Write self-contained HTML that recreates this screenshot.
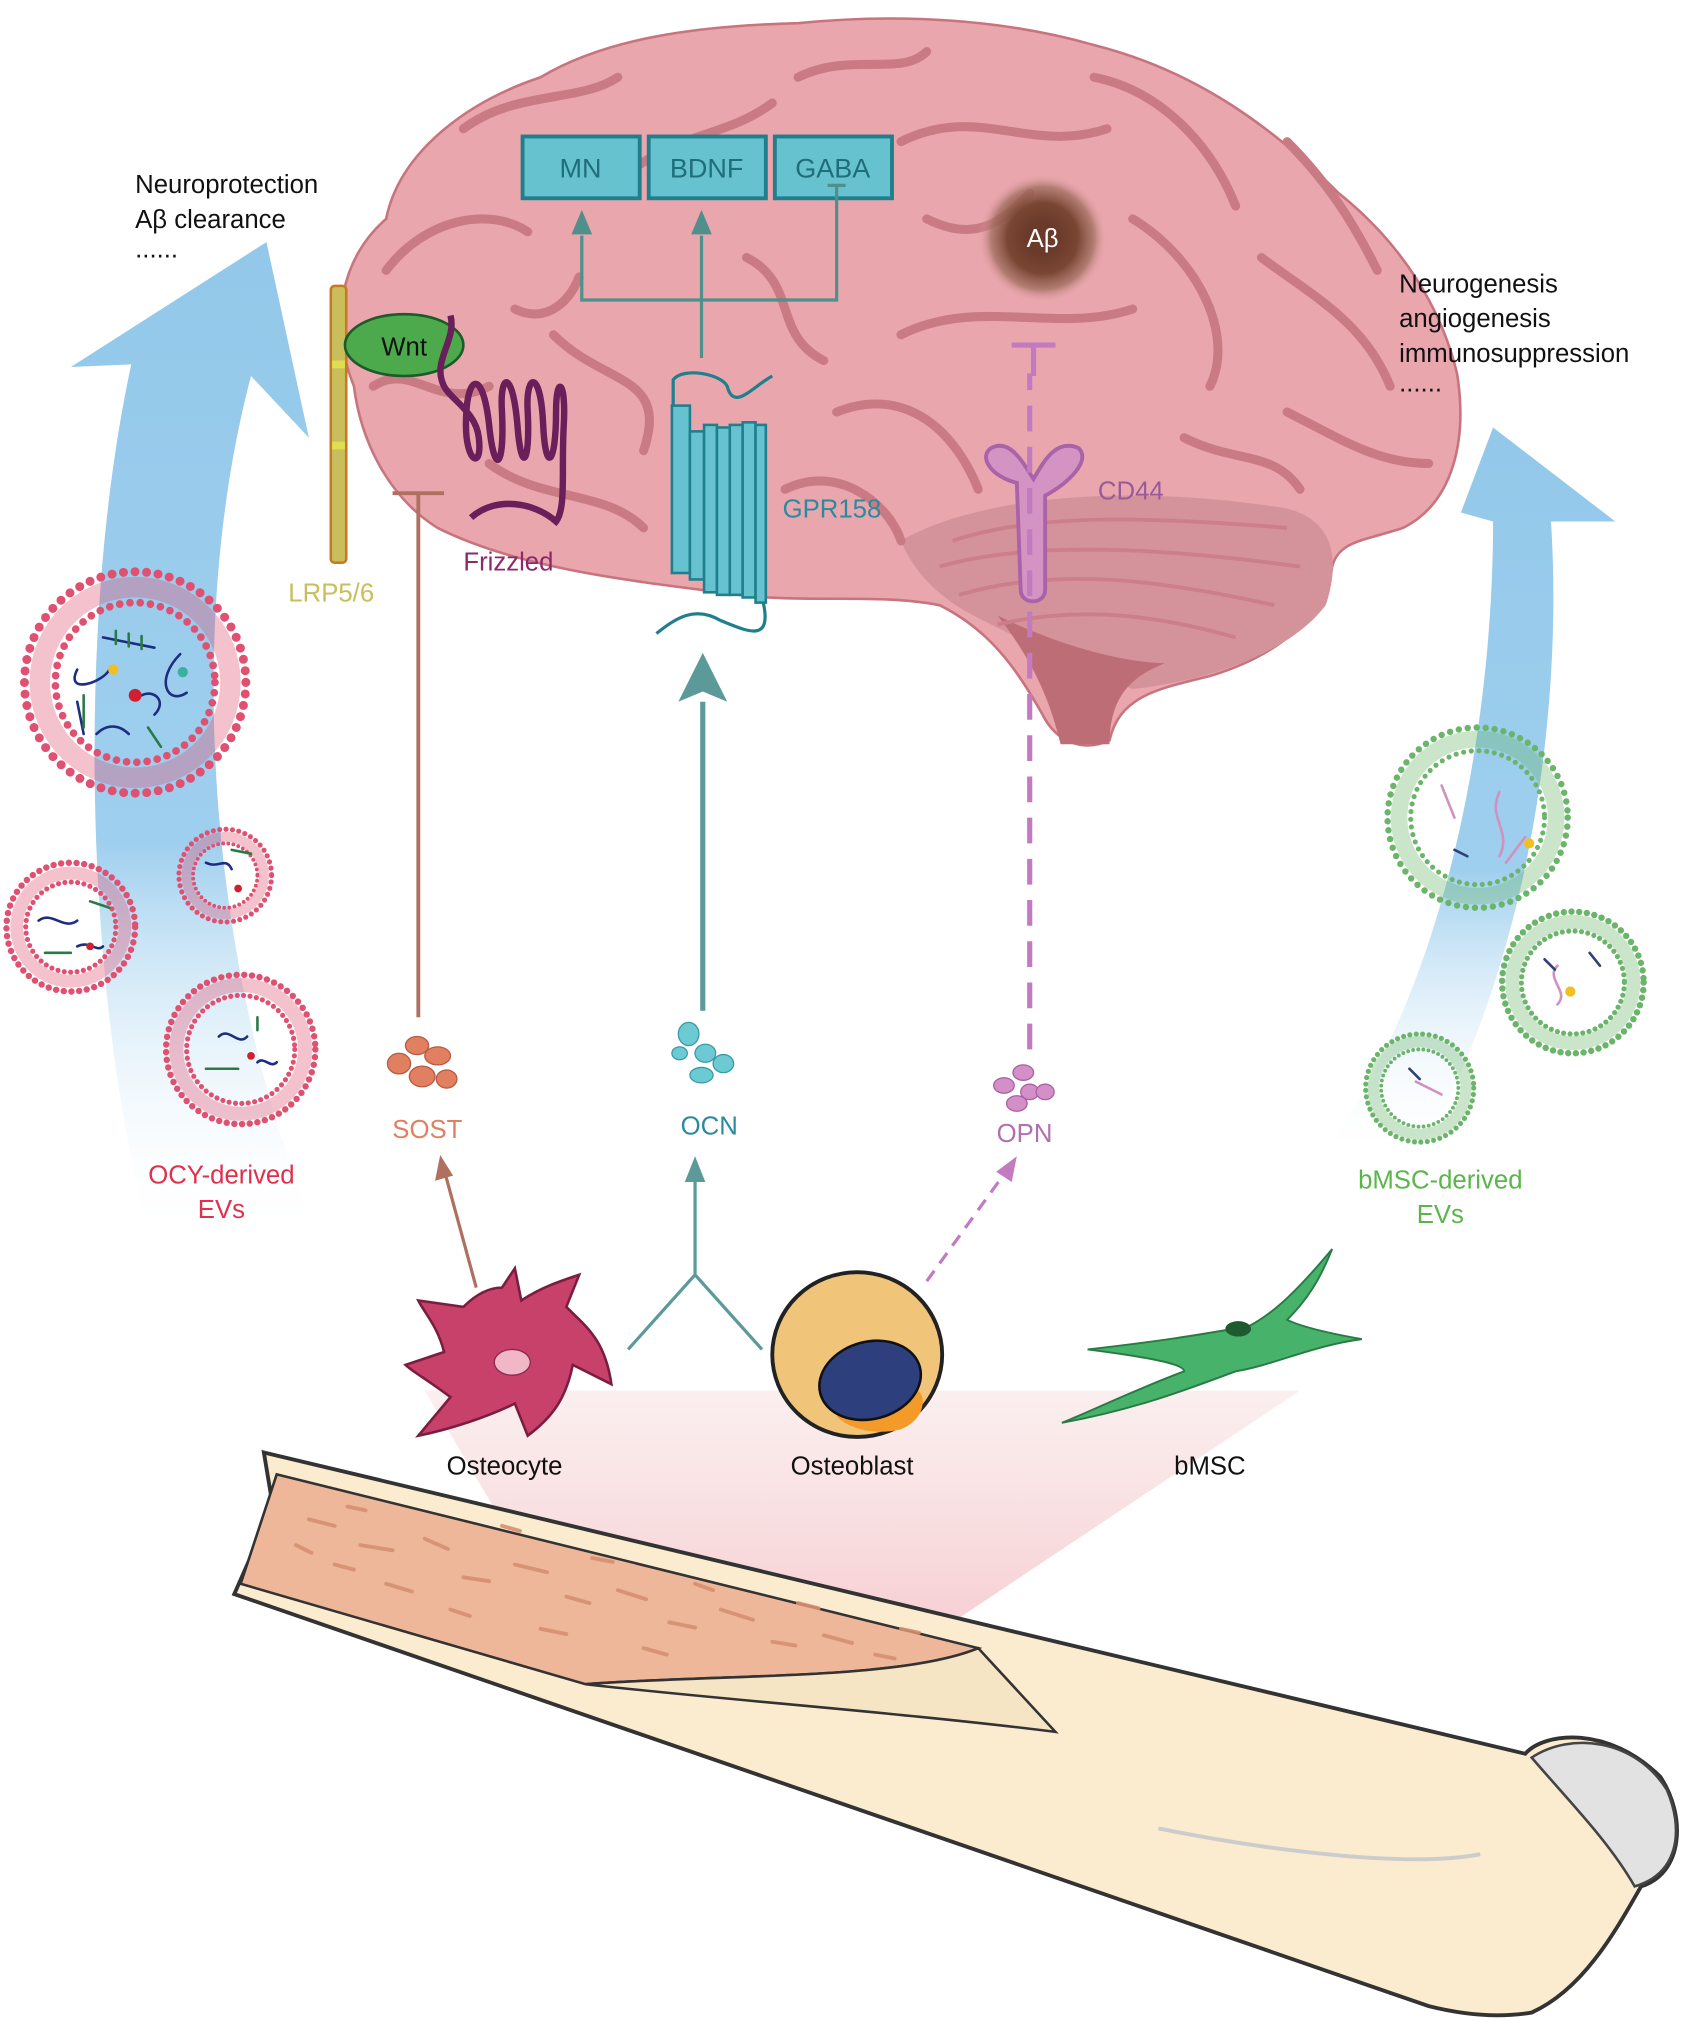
<!DOCTYPE html>
<html><head><meta charset="utf-8"><style>
html,body{margin:0;padding:0;background:#fff}
svg{display:block}
text{font-family:"Liberation Sans",sans-serif}
</style></head><body>
<svg width="1681" height="2019" viewBox="0 0 1306 1568" preserveAspectRatio="none" xmlns="http://www.w3.org/2000/svg">
<defs>
<linearGradient id="bl" x1="0" y1="0" x2="0" y2="1" gradientUnits="objectBoundingBox">
<stop offset="0" stop-color="#93c8ea"/><stop offset="0.6" stop-color="#9fcfee"/><stop offset="1" stop-color="#fff" stop-opacity="0"/></linearGradient>
<linearGradient id="pk" x1="0" y1="0" x2="0" y2="1">
<stop offset="0" stop-color="#f7dede" stop-opacity="0.5"/><stop offset="1" stop-color="#f3b8bf" stop-opacity="0.8"/></linearGradient>
<radialGradient id="ab"><stop offset="0.25" stop-color="#6b3a2a"/><stop offset="0.55" stop-color="#7a4634"/><stop offset="0.8" stop-color="#9a6a58" stop-opacity="0.7"/><stop offset="1" stop-color="#e8a4ab" stop-opacity="0"/></radialGradient>
</defs>

<path d="M250,965 C175,800 135,520 195,292 L240,340 L207,188 L55,285 L102,283 C55,500 70,800 118,965 Z" fill="url(#bl)"/>
<path d="M1098,905 C1185,760 1215,560 1205,405 L1255,405 L1160,332 L1135,398 L1160,405 C1160,560 1125,760 1035,885 Z" fill="url(#bl)"/>

<path d="M275,300 C255,250 265,200 300,170 C310,120 360,80 420,60 C470,30 540,20 620,18 C700,10 780,15 850,35 C930,55 990,100 1040,150 C1090,190 1120,240 1132,290 C1140,340 1130,390 1090,410 C1060,420 1040,420 1035,440 C1030,480 990,510 940,525 C900,535 870,540 862,575 C840,585 820,575 810,555 C790,520 770,490 730,470 C680,460 620,470 560,460 C480,450 400,440 340,410 C300,385 280,340 275,300 Z" fill="#e9a6ad" stroke="#c7747e" stroke-width="2"/>
<path d="M700,420 C760,385 880,375 1000,395 C1040,405 1040,440 1030,470 C1000,510 930,530 880,535 C840,520 800,500 760,480 C730,465 710,445 700,420 Z" fill="#d4939a"/>
<path d="M775,478 C830,505 880,515 905,515 C880,525 862,540 862,578 L824,578 C815,540 800,510 775,478 Z" fill="#bd6d75"/>
<g fill="none" stroke="#cc7f88" stroke-width="3">
<path d="M740,420 C800,400 880,400 1000,410"/><path d="M730,440 C800,420 900,425 1010,440"/><path d="M745,462 C820,440 900,450 990,470"/><path d="M775,485 C840,470 900,478 960,495"/>
</g>
<g fill="none" stroke="#c97a83" stroke-width="7" stroke-linecap="round">
<path d="M300,210 C330,170 380,160 410,180"/><path d="M360,100 C400,70 450,80 480,60"/><path d="M470,150 C520,100 560,110 600,80"/>
<path d="M620,60 C660,40 700,60 720,40"/><path d="M700,110 C760,80 800,120 860,100"/><path d="M850,60 C900,70 940,110 960,160"/>
<path d="M980,200 C1020,230 1060,250 1080,300"/><path d="M880,170 C930,200 960,260 940,300"/><path d="M700,260 C760,230 820,260 880,240"/>
<path d="M650,320 C700,300 740,330 760,380"/><path d="M290,300 C320,280 340,320 380,300"/><path d="M430,260 C470,300 520,290 500,350"/>
<path d="M380,360 C420,390 470,380 500,410"/><path d="M610,380 C650,360 690,390 700,420"/><path d="M1000,320 C1040,340 1070,360 1110,360"/>
<path d="M920,340 C960,360 990,350 1010,380"/><path d="M580,200 C620,220 600,260 640,280"/><path d="M720,170 C760,190 780,170 800,150"/>
<path d="M1000,110 C1030,140 1050,170 1070,210"/><path d="M450,215 C440,240 420,250 400,240"/>
</g>

<g stroke="#1f7f8c" stroke-width="3" fill="#67c2cf">
<rect x="406" y="106" width="91" height="48"/><rect x="504" y="106" width="91" height="48"/><rect x="602" y="106" width="91" height="48"/>
</g>
<g font-size="21" fill="#1f6f7a" text-anchor="middle"><text x="451" y="138">MN</text><text x="549" y="138">BDNF</text><text x="647" y="138">GABA</text></g>
<g stroke="#4f8f8c" stroke-width="2.5" fill="none"><path d="M452,183 V233 H650 V144 M643,144 H657 M545,278 V183"/></g>
<path d="M452,163 L444,182 L460,182 Z M545,163 L537,182 L553,182 Z" fill="#4f8f8c"/>

<circle cx="810" cy="185" r="50" fill="url(#ab)"/>
<text x="810" y="192" font-size="20" fill="#fff" text-anchor="middle">Aβ</text>

<rect x="257" y="222" width="12" height="215" rx="3" fill="#c9bd5c" stroke="#c87a20" stroke-width="2"/>
<rect x="258" y="280" width="10" height="6" fill="#dede50"/><rect x="258" y="343" width="10" height="6" fill="#dede50"/>
<ellipse cx="314" cy="268" rx="46" ry="24" fill="#4caa4c" stroke="#1d5a2a" stroke-width="2"/>
<text x="314" y="276" font-size="20" text-anchor="middle" fill="#111">Wnt</text>
<path d="M350,245 C355,265 335,280 345,300 C350,310 370,320 372,340 C375,365 362,360 362,330 C362,290 375,285 380,330 C384,370 392,365 390,320 C388,290 398,285 402,330 C405,370 412,360 410,320 C408,290 420,285 422,330 C424,370 432,360 432,320 C432,290 440,295 438,330 C436,365 440,395 432,405 C415,390 385,385 366,402" fill="none" stroke="#6a1f5a" stroke-width="5"/>
<text x="360" y="443" font-size="20" fill="#8a2a6a">Frizzled</text>
<text x="224" y="467" font-size="20" fill="#c9bd5c">LRP5/6</text>

<g fill="#67c2cf" stroke="#1f7f8c" stroke-width="2">
<rect x="522" y="315" width="14" height="130"/><rect x="536" y="335" width="11" height="115"/><rect x="547" y="330" width="10" height="130"/>
<rect x="557" y="332" width="10" height="130"/><rect x="567" y="330" width="10" height="132"/><rect x="577" y="328" width="10" height="136"/><rect x="587" y="330" width="8" height="138"/>
</g>
<path d="M523,315 V295 C530,285 560,290 565,300 C570,320 585,300 600,292 M510,492 C525,480 540,470 560,482 C580,490 600,500 593,468" fill="none" stroke="#1f7f8c" stroke-width="2.5"/>
<text x="608" y="402" font-size="20" fill="#2a8aa0">GPR158</text>

<path d="M790,375 C770,370 760,355 770,348 C785,340 795,360 803,372 C810,360 820,340 838,348 C848,358 830,375 812,385 L812,458 C812,470 793,470 793,458 Z" fill="#d394c3" stroke="#aa62a8" stroke-width="3"/>
<text x="853" y="388" font-size="20" fill="#9a5a9a">CD44</text>

<g font-size="20" fill="#111">
<text x="105" y="150">Neuroprotection</text><text x="105" y="177">Aβ clearance</text><text x="105" y="200">......</text>
<text x="1087" y="227">Neurogenesis</text><text x="1087" y="254">angiogenesis</text><text x="1087" y="281">immunosuppression</text><text x="1087" y="304">......</text>
</g>

<polygon points="330,1080 1010,1080 680,1300 460,1300" fill="url(#pk)"/>

<path d="M205,1128 L1185,1362 C1200,1345 1250,1340 1290,1380 C1310,1410 1308,1455 1275,1465 C1255,1500 1230,1545 1190,1563 C1160,1568 1130,1563 1110,1558 L182,1238 L212,1170 Z" fill="#fbebcf" stroke="#333" stroke-width="3"/>
<path d="M1190,1365 C1220,1345 1270,1350 1295,1390 C1308,1420 1305,1455 1270,1465 C1250,1430 1220,1400 1190,1365 Z" fill="#e2e2e2" stroke="#444" stroke-width="2"/>
<path d="M215,1145 L760,1280 C700,1305 560,1300 455,1308 L187,1230 Z" fill="#eeb79a" stroke="#333" stroke-width="2"/>
<path d="M455,1308 C560,1300 700,1305 760,1280 L820,1345 C700,1330 560,1320 455,1308 Z" fill="#f6e5c4" stroke="#333" stroke-width="2"/>
<g stroke="#d69070" stroke-width="3" stroke-linecap="round" opacity="0.9">
<path d="M240,1180 l20,5 M280,1200 l25,4 M330,1195 l18,8 M360,1225 l20,3 M400,1215 l25,6 M440,1240 l18,5 M480,1235 l22,7 M520,1260 l20,4 M560,1250 l25,8 M600,1275 l18,3 M640,1270 l22,6 M300,1230 l20,6 M420,1265 l20,4 M500,1280 l18,5 M260,1215 l15,4 M680,1285 l15,3 M230,1200 l12,6 M270,1170 l14,3 M350,1250 l15,5 M390,1185 l14,4 M460,1210 l16,3 M540,1230 l14,5 M620,1245 l16,4 M700,1265 l14,3"/>
</g>
<path d="M900,1420 C1000,1440 1100,1450 1150,1440" fill="none" stroke="#ccc" stroke-width="3"/>

<path d="M390,1000 L400,985 L405,1010 C420,1000 435,995 450,990 L440,1015 C455,1030 470,1040 475,1075 L445,1060 C440,1085 430,1100 410,1115 L400,1090 C380,1100 350,1110 325,1115 L350,1085 C330,1070 320,1065 315,1060 L345,1050 C340,1030 330,1020 325,1010 L360,1015 C370,1005 380,1000 390,1000 Z" fill="#c8416a" stroke="#7a1d40" stroke-width="2"/>
<ellipse cx="398" cy="1058" rx="14" ry="10" fill="#f1b7c7" stroke="#8a2a50"/>
<ellipse cx="666" cy="1052" rx="66" ry="64" fill="#f0c57a" stroke="#222" stroke-width="3"/>
<path d="M700,1080 C720,1070 725,1100 700,1110 C680,1115 660,1110 650,1100 Z" fill="#f39a28"/>
<ellipse cx="676" cy="1072" rx="40" ry="30" transform="rotate(-15 676 1072)" fill="#2e3f7e" stroke="#111" stroke-width="2"/>
<path d="M1035,970 C1010,1000 990,1020 970,1030 C940,1035 915,1040 845,1048 C900,1055 920,1060 920,1065 C880,1080 850,1095 825,1105 C880,1095 920,1080 960,1065 C990,1060 1020,1045 1058,1040 C1030,1035 1010,1030 1000,1025 C1015,1010 1025,995 1035,970 Z" fill="#47b26a" stroke="#2a7a45" stroke-width="1.5"/>
<ellipse cx="962" cy="1032" rx="10" ry="6" fill="#1d5a30"/>
<g font-size="20" fill="#111" text-anchor="middle"><text x="392" y="1145">Osteocyte</text><text x="662" y="1145">Osteoblast</text><text x="940" y="1145">bMSC</text></g>

<path d="M325,790 V383 M305,383 H345" stroke="#b07060" stroke-width="3" fill="none"/>
<path d="M546,785 V545" stroke="#5b9a98" stroke-width="4"/>
<path d="M546,507 L527,545 L546,537 L565,545 Z" fill="#5b9a98"/>
<path d="M800,815 V290" stroke="#c27bc0" stroke-width="4" stroke-dasharray="20 12"/>
<path d="M786,268 H820 M803,268 V292" stroke="#c27bc0" stroke-width="4"/>
<path d="M370,1000 L346,912" stroke="#b07060" stroke-width="2.5"/>
<path d="M342,897 L338,917 L352,913 Z" fill="#b07060"/>
<path d="M488,1048 L540,990 L592,1048 M540,990 V915" stroke="#5b9a98" stroke-width="2.5" fill="none"/>
<path d="M540,898 L532,918 L548,918 Z" fill="#5b9a98"/>
<path d="M720,995 L780,912" stroke="#c27bc0" stroke-width="2.5" stroke-dasharray="10 7"/>
<path d="M790,898 L774,910 L786,918 Z" fill="#c27bc0"/>

<g fill="#e08060" stroke="#b75a40" stroke-width="1"><ellipse cx="324" cy="812" rx="9" ry="7"/><ellipse cx="340" cy="820" rx="10" ry="7"/><ellipse cx="310" cy="826" rx="9" ry="8"/><ellipse cx="328" cy="836" rx="10" ry="8"/><ellipse cx="347" cy="838" rx="8" ry="7"/></g>
<g fill="#6ccad3" stroke="#3a9aa4" stroke-width="1"><ellipse cx="535" cy="803" rx="8" ry="9"/><ellipse cx="528" cy="818" rx="6" ry="5"/><ellipse cx="548" cy="818" rx="8" ry="7"/><ellipse cx="562" cy="826" rx="8" ry="7"/><ellipse cx="545" cy="835" rx="9" ry="6"/></g>
<g fill="#d48ec8" stroke="#a860a0" stroke-width="1"><ellipse cx="795" cy="833" rx="8" ry="6"/><ellipse cx="780" cy="843" rx="8" ry="6"/><ellipse cx="800" cy="848" rx="7" ry="6"/><ellipse cx="812" cy="848" rx="7" ry="6"/><ellipse cx="790" cy="857" rx="8" ry="6"/></g>
<g font-size="20" text-anchor="middle"><text x="332" y="884" fill="#e08060">SOST</text><text x="551" y="881" fill="#2a8aa0">OCN</text><text x="796" y="887" fill="#b070b0">OPN</text>
<text x="172" y="919" fill="#e0304e">OCY-derived</text><text x="172" y="946" fill="#e0304e">EVs</text>
<text x="1119" y="923" fill="#5ab54a">bMSC-derived</text><text x="1119" y="950" fill="#5ab54a">EVs</text></g>

<g fill="none" stroke-linecap="round">
<g stroke="#e05070">
<circle cx="105" cy="530" r="86" stroke-width="7" stroke-dasharray="0 9"/><circle cx="105" cy="530" r="62" stroke-width="6" stroke-dasharray="0 8"/><circle cx="105" cy="530" r="74" stroke-width="16" stroke-dasharray="1 3" stroke-opacity="0.35"/>
<circle cx="55" cy="720" r="50" stroke-width="5" stroke-dasharray="0 6"/><circle cx="55" cy="720" r="35" stroke-width="4" stroke-dasharray="0 5"/><circle cx="55" cy="720" r="42" stroke-width="10" stroke-dasharray="1 3" stroke-opacity="0.35"/>
<circle cx="175" cy="680" r="36" stroke-width="4" stroke-dasharray="0 5"/><circle cx="175" cy="680" r="25" stroke-width="3" stroke-dasharray="0 4"/><circle cx="175" cy="680" r="30" stroke-width="8" stroke-dasharray="1 3" stroke-opacity="0.35"/>
<circle cx="187" cy="815" r="58" stroke-width="5" stroke-dasharray="0 6"/><circle cx="187" cy="815" r="42" stroke-width="4" stroke-dasharray="0 5"/><circle cx="187" cy="815" r="50" stroke-width="11" stroke-dasharray="1 3" stroke-opacity="0.35"/>
</g>
<g stroke="#6ab56a">
<circle cx="1148" cy="635" r="70" stroke-width="5" stroke-dasharray="0 7"/><circle cx="1148" cy="635" r="52" stroke-width="4" stroke-dasharray="0 6"/><circle cx="1148" cy="635" r="61" stroke-width="13" stroke-dasharray="1 3" stroke-opacity="0.35"/>
<circle cx="1222" cy="763" r="55" stroke-width="5" stroke-dasharray="0 6"/><circle cx="1222" cy="763" r="40" stroke-width="4" stroke-dasharray="0 5"/><circle cx="1222" cy="763" r="47" stroke-width="11" stroke-dasharray="1 3" stroke-opacity="0.35"/>
<circle cx="1103" cy="845" r="42" stroke-width="4" stroke-dasharray="0 5"/><circle cx="1103" cy="845" r="30" stroke-width="3" stroke-dasharray="0 4"/><circle cx="1103" cy="845" r="36" stroke-width="9" stroke-dasharray="1 3" stroke-opacity="0.35"/>
</g>
<g stroke-width="2">
<path d="M80,495 l40,8 M140,508 c-20,20 -10,40 5,30 M60,520 c-10,20 20,10 25,0 M75,570 c10,-10 20,-5 25,0 M110,540 c10,-5 20,5 10,15 M60,545 l5,25" stroke="#1d2e80"/>
<path d="M115,565 l10,15 M65,540 v25 M90,490 v10 M100,492 v10 M110,494 v10" stroke="#2a7a45"/>
<path d="M30,715 c10,-8 20,8 30,0 M60,735 c10,-5 15,5 20,0 M160,670 c10,5 15,-5 20,5 M170,805 c8,-8 15,8 22,0 M200,825 c5,-5 10,5 15,0" stroke="#1d2e80"/>
<path d="M35,740 h20 M70,700 l15,5 M180,660 l15,3 M160,830 h25 M200,790 v10" stroke="#2a7a45"/>
<path d="M1120,610 l10,25 M1165,615 c-10,20 10,30 0,50 M1185,650 l-15,20 M1210,750 c-10,10 10,20 0,30 M1100,840 l20,10" stroke="#d090c0"/>
<path d="M1130,660 l10,5 M1200,745 l8,8 M1235,740 l8,10 M1095,830 l8,8" stroke="#2e3f7e"/>
</g>
</g>
<g fill="#f0c020"><circle cx="88" cy="520" r="4"/><circle cx="1188" cy="655" r="4"/><circle cx="1220" cy="770" r="4"/></g>
<circle cx="142" cy="522" r="4" fill="#3ab0a0"/><circle cx="105" cy="540" r="5" fill="#d02030"/><circle cx="70" cy="735" r="3" fill="#d02030"/><circle cx="185" cy="690" r="3" fill="#d02030"/><circle cx="195" cy="820" r="3" fill="#d02030"/>
</svg>
</body></html>
